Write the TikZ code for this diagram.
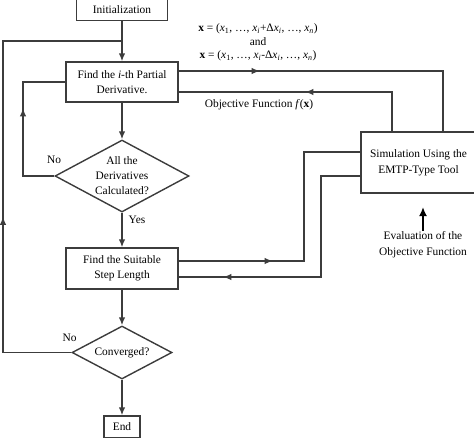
\documentclass[tikz,border=0pt]{standalone}
\usepackage{fontspec}
\setmainfont{Liberation Serif}
\usetikzlibrary{shapes.geometric,arrows.meta,decorations.markings}
\definecolor{linegray}{RGB}{60,60,60}
\begin{document}
\begin{tikzpicture}[x=1pt,y=-1pt,
  font=\fontsize{11.4}{14.5}\selectfont,
  conn/.style={draw=linegray,line width=1.4pt},
  arr/.style={conn,-{Latex[length=8pt,width=6.5pt]}},
  midarr/.style={postaction={decorate,decoration={markings,mark=at position #1 with {\arrow{Latex[length=8pt,width=6.5pt]}}}}},
  box/.style={draw=linegray,line width=1.4pt,rectangle,align=center,inner sep=0pt},
  dia/.style={draw=linegray,line width=1.4pt,diamond,align=center,inner sep=0pt},
  lbl/.style={inner sep=1pt,align=center}
]
\useasboundingbox (0,0) rectangle (474,437);

% nodes
\node[box,minimum width=91pt,minimum height=22.5pt] (init) at (122,9.25) {Initialization};
\node[box,minimum width=112pt,minimum height=40pt] (find) at (122,82) {Find the \textit{i}-th Partial\\Derivative.};
\node[dia,aspect=1.86,minimum width=134pt,minimum height=72pt,font=\fontsize{11.4}{15}\selectfont] (calc) at (122,176) {All the\\Derivatives\\Calculated?};
\node[box,minimum width=112pt,minimum height=41pt] (step) at (122,268.5) {Find the Suitable\\Step Length};
\node[dia,aspect=1.89,minimum width=100pt,minimum height=53pt] (conv) at (122,352.5) {Converged?};
\node[box,minimum width=36pt,minimum height=22pt] (end) at (122,427) {End};
\node[box,minimum width=115pt,minimum height=61pt,font=\fontsize{11.4}{16}\selectfont] (sim) at (418.5,162.5) {Simulation Using the\\EMTP-Type Tool};
\node[lbl,font=\fontsize{11.4}{16}\selectfont] (eval) at (423,245) {Evaluation of the\\Objective Function};
\node[lbl,font=\fontsize{11.4}{13.5}\selectfont] (xlab) at (258,42.5) {\textbf{x} = (\textit{x}\textsubscript{1}, \ldots, \textit{x\textsubscript{i}}+Δ\textit{x\textsubscript{i}}, \ldots, \textit{x\textsubscript{n}})\\and\\\textbf{x} = (\textit{x}\textsubscript{1}, \ldots, \textit{x\textsubscript{i}}-Δ\textit{x\textsubscript{i}}, \ldots, \textit{x\textsubscript{n}})};
\node[lbl] (obj) at (259,105) {Objective Function \textit{f}(\textbf{x})};
\node[lbl] (no1) at (54,160) {No};
\node[lbl] (yes) at (137,220) {Yes};
\node[lbl] (no2) at (69.5,338) {No};
\coordinate (join) at (122,41);
\coordinate (evaltip) at (423,207);

% connectors
\draw[arr] (init.south) -- (find.north);
\draw[conn,midarr=81pt] ([yshift=11pt]find.east) -| ([xshift=24.5pt]sim.north);
\draw[conn,midarr=126pt] ([xshift=-26.5pt]sim.north) |- ([yshift=-10pt]find.east);
\draw[conn,midarr=99pt] (calc.west) -| (23,82) -- (find.west);
\draw[arr] (find.south) -- (calc.north);
\draw[arr] (calc.south) -- (step.north);
\draw[conn,midarr=94pt] ([yshift=7.5pt]step.east) -- (304,261) |- ([yshift=10.5pt]sim.west);
\draw[conn,midarr=238pt] ([yshift=-13.5pt]sim.west) -| (321,277) -- ([yshift=-8.5pt]step.east);
\draw[arr] (step.south) -- (conv.north);
\draw[conn,midarr=204pt] (conv.west) -| (3,41) -- (join);
\draw[arr] (conv.south) -- (end.north);
\draw[draw=black,line width=2pt,-{Latex[length=9pt,width=8pt]}] (eval.north) -- (evaltip);
\end{tikzpicture}
\end{document}
